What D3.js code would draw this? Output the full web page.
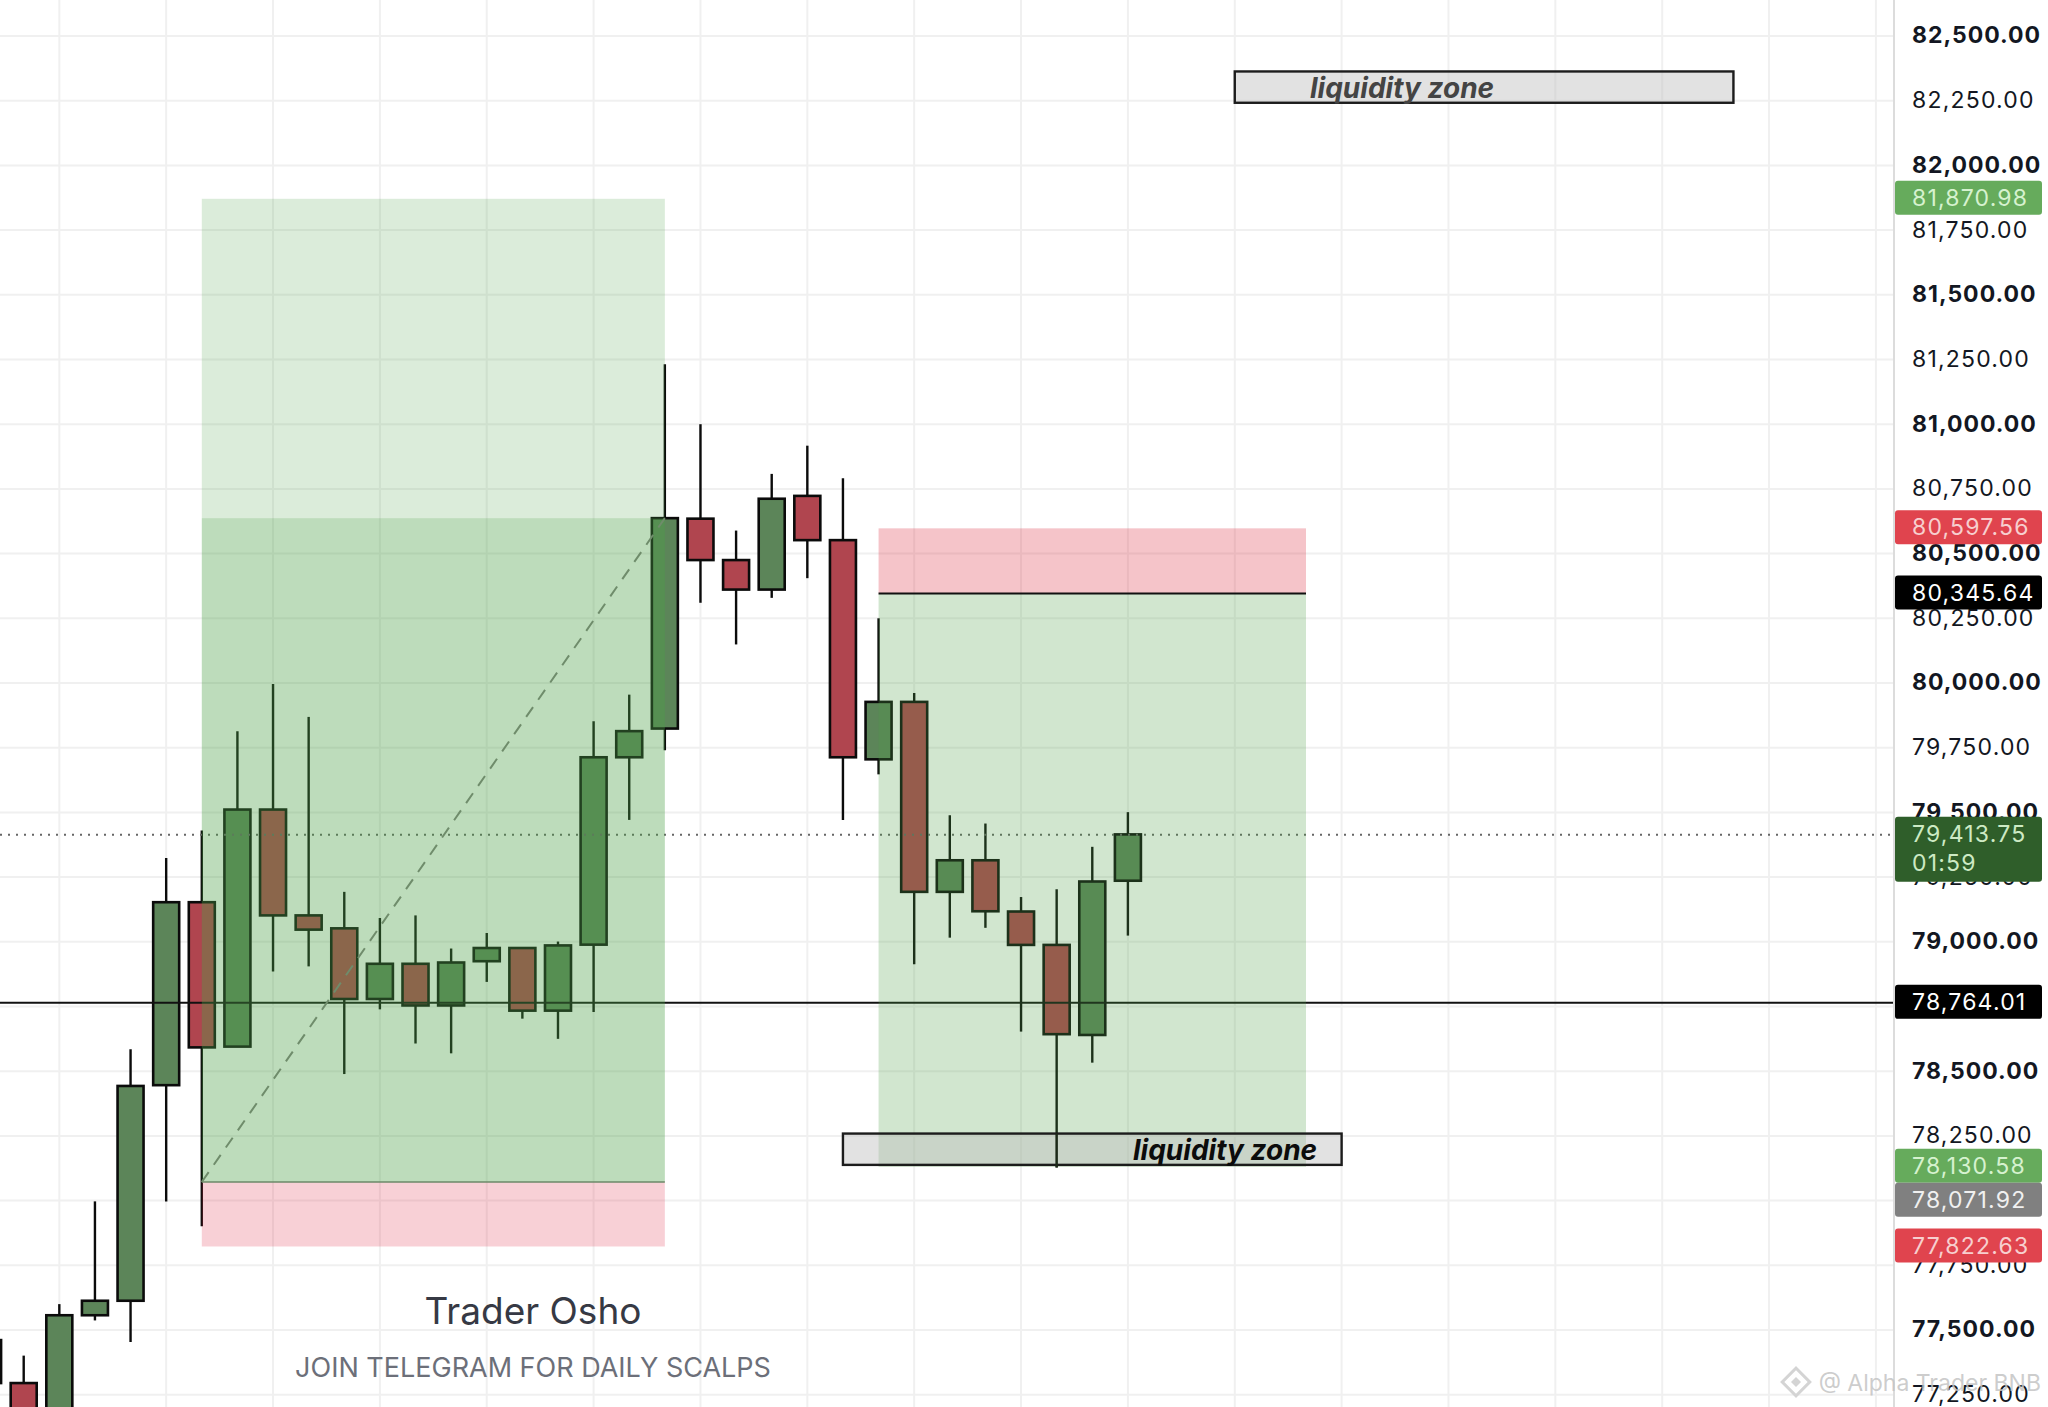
<!DOCTYPE html>
<html>
<head>
<meta charset="utf-8">
<script src="https://cdnjs.cloudflare.com/ajax/libs/d3/7.8.5/d3.min.js"></script>
<style>
  html, body { margin: 0; padding: 0; background: #fff; }
  svg { display: block; font-family: Inter, "Noto Sans", sans-serif; }
</style>
</head>
<body>
<div id="chart"></div>
<script>
// candles, index -1 is the one cut off by the left edge
const candleIdx = d3.range(-1, 32)
const opens  = [77461,77295,77088,77557,77613,78446,79153,78595,79511,79102,79052,78779,78915,78754,78925,78976,78734,78989,79713,79824,80635,80475,80361,80723,80552,79705,79927,79193,79315,79117,78988,78640,79236]
const highs  = [77461,77401,77600,77997,78585,79324,79430,79814,79996,79869,79193,79092,79102,78974,79034,78976,79001,79852,79955,81232,81000,80589,80808,80917,80791,80250,79961,79489,79457,79173,79203,79367,79501]
const lows   = [77295,77000,76980,77537,77454,77997,77901,78595,78885,78905,78489,78739,78607,78569,78845,78703,78625,78729,79471,79740,80310,80149,80329,80405,79471,79647,78913,79016,79054,78653,78128,78533,79024]
const closes = [77295,77088,77557,77613,78443,79153,78592,79511,79102,79047,78779,78915,78754,78920,78976,78734,78986,79713,79814,80637,80475,80361,80712,80552,79713,79927,79193,79315,79118,78988,78643,79233,79415]

// price axis
const priceTicks = d3.range(77250, 82501, 250)
const timeGrid = d3.range(1, 53, 3)

// price tags on the axis
const tagValues = [81870.98, 80597.56, 80345.64, 79413.75, 78764.01, 78130.58, 78071.92, 77822.63]
const tagLabels = ["81,870.98", "80,597.56", "80,345.64", "79,413.75", "78,764.01", "78,130.58", "78,071.92", "77,822.63"]
const tagFills  = ["#66ab5c", "#e0444e", "#000000", "#2f5e2a", "#000000", "#66ab5c", "#808080", "#e0444e"]
const tagTexts  = ["#d6f2cf", "#f7cfcf", "#ffffff", "#cdeac4", "#ffffff", "#d6f2cf", "#f0f0f0", "#f7cfcf"]
const countdown = "01:59"

// long position tool
const longStart = 5, longEnd = 18
const longStop = 77822.63, longEntry = 78071.92, longTarget = 81870.98, longReached = 80637
// short position tool
const shortStart = 24, shortEnd = 36
const shortStop = 80597.56, shortEntry = 80345.64, shortTarget = 78130.58
// liquidity boxes
const liqTop = {start: 34, end: 48, hi: 82363, lo: 82242}
const liqBottom = {start: 23, end: 37, hi: 78259, lo: 78138}

const lastPrice = 79413.75
const hLine = 78764.01

const W = 2048, H = 1407, paneRight = 1894

const svg = d3.select("#chart").append("svg")
    .attr("width", W)
    .attr("height", H)
    .attr("viewBox", `0 0 ${W} ${H}`)

svg.append("rect").attr("width", W).attr("height", H).attr("fill", "#fff")

const x = d3.scaleLinear().domain([0, 31]).range([23.7, 1127.9])
const y = d3.scaleLinear().domain([82500, 77250]).range([36, 1394.7])
const bodyW = 26

// grid
svg.append("g").selectAll("line")
    .data(timeGrid)
    .join("line")
    .attr("x1", d => x(d)).attr("x2", d => x(d))
    .attr("y1", 0).attr("y2", H)
    .attr("stroke", "#f0f0f0").attr("stroke-width", 2)

svg.append("g").selectAll("line")
    .data(priceTicks)
    .join("line")
    .attr("x1", 0).attr("x2", paneRight)
    .attr("y1", d => y(d)).attr("y2", d => y(d))
    .attr("stroke", "#f0f0f0").attr("stroke-width", 2)

// candles go under the position tools, the tint is what makes the red ones brown
const candles = svg.append("g").selectAll("g")
    .data(candleIdx)
    .join("g")
candles.append("line")
    .attr("x1", d => x(d)).attr("x2", d => x(d))
    .attr("y1", (d, i) => y(highs[i]))
    .attr("y2", (d, i) => y(lows[i]))
    .attr("stroke", "#0b0b0b").attr("stroke-width", 2.4)
candles.append("rect")
    .attr("x", d => x(d) - bodyW / 2)
    .attr("width", bodyW)
    .attr("y", (d, i) => y(Math.max(opens[i], closes[i])))
    .attr("height", (d, i) => Math.abs(y(opens[i]) - y(closes[i])))
    .attr("fill", (d, i) => closes[i] >= opens[i] ? "#5c8559" : "#b0454f")
    .attr("stroke", "#0b0b0b").attr("stroke-width", 2.6)

// last price and horizontal line run over the candles
svg.append("line")
    .attr("x1", 0).attr("x2", paneRight)
    .attr("y1", y(lastPrice)).attr("y2", y(lastPrice))
    .attr("stroke", "#666").attr("stroke-width", 2)
    .attr("stroke-dasharray", "2 6")
svg.append("line")
    .attr("x1", 0).attr("x2", paneRight)
    .attr("y1", y(hLine)).attr("y2", y(hLine))
    .attr("stroke", "#111").attr("stroke-width", 2)

// long position
const zones = svg.append("g")
function zone(x0, x1, p0, p1, fill) {
    zones.append("rect")
        .attr("x", x(x0)).attr("width", x(x1) - x(x0))
        .attr("y", y(p0)).attr("height", y(p1) - y(p0))
        .attr("fill", fill)
}
zone(longStart, longEnd, longTarget, longReached, "rgba(76,160,70,0.2)")
zone(longStart, longEnd, longReached, longEntry, "rgba(76,160,70,0.37)")
zone(longStart, longEnd, longEntry, longStop, "rgba(226,60,85,0.24)")
zones.append("line")
    .attr("x1", x(longStart)).attr("x2", x(longEnd))
    .attr("y1", y(longEntry)).attr("y2", y(longEntry))
    .attr("stroke", "#6d8a68").attr("stroke-width", 1.5)
zones.append("line")
    .attr("x1", x(longStart)).attr("x2", x(longEnd))
    .attr("y1", y(longEntry)).attr("y2", y(longReached))
    .attr("stroke", "#6f8c6b").attr("stroke-width", 2)
    .attr("stroke-dasharray", "12 9")

// short position
zone(shortStart, shortEnd, shortStop, shortEntry, "rgba(222,60,75,0.3)")
zone(shortStart, shortEnd, shortEntry, shortTarget, "rgba(76,160,70,0.26)")
zones.append("line")
    .attr("x1", x(shortStart)).attr("x2", x(shortEnd))
    .attr("y1", y(shortEntry)).attr("y2", y(shortEntry))
    .attr("stroke", "#111").attr("stroke-width", 2)

// liquidity boxes
function liquidity(b, textX, color) {
    svg.append("rect")
        .attr("x", x(b.start)).attr("width", x(b.end) - x(b.start))
        .attr("y", y(b.hi)).attr("height", y(b.lo) - y(b.hi))
        .attr("fill", "rgba(190,190,190,0.45)")
        .attr("stroke", "#1c1c1c").attr("stroke-width", 2.4)
    svg.append("text")
        .attr("x", textX)
        .attr("y", (y(b.hi) + y(b.lo)) / 2 + 11)
        .attr("font-size", 28)
        .attr("font-weight", 700)
        .attr("font-style", "italic")
        .attr("fill", color)
        .text("liquidity zone")
}
liquidity(liqTop, 1310, "#444")
liquidity(liqBottom, 1133, "#0c0c0c")

// wick that runs through the bottom box
const deepest = candleIdx.indexOf(29)
svg.append("line")
    .attr("x1", x(29)).attr("x2", x(29))
    .attr("y1", y(liqBottom.hi)).attr("y2", y(lows[deepest]))
    .attr("stroke", "#1c2a18").attr("stroke-width", 2.2)

// watermark text
svg.append("text")
    .attr("x", 533).attr("y", 1324)
    .attr("text-anchor", "middle")
    .attr("font-size", 37)
    .attr("fill", "#363944")
    .text("Trader Osho")
svg.append("text")
    .attr("x", 533).attr("y", 1377)
    .attr("text-anchor", "middle")
    .attr("font-size", 27)
    .attr("fill", "#6c6f79")
    .text("JOIN TELEGRAM FOR DAILY SCALPS")

// price axis
const axisG = svg.append("g")
    .attr("transform", `translate(${paneRight},0)`)
    .call(d3.axisRight(y)
        .tickValues(priceTicks)
        .tickFormat(d3.format(",.2f"))
        .tickSize(0)
        .tickPadding(18))
axisG.select(".domain").remove()
axisG.selectAll("text")
    .attr("font-family", "Inter, sans-serif")
    .attr("font-size", 23)
    .attr("dy", "0.3em")
    .attr("fill", "#131722")
    .attr("font-weight", d => d % 500 === 0 ? 700 : 400)
    .attr("letter-spacing", d => d % 500 === 0 ? 1 : 1.2)

svg.append("line")
    .attr("x1", paneRight).attr("x2", paneRight)
    .attr("y1", 0).attr("y2", H)
    .attr("stroke", "#dcdcdc").attr("stroke-width", 2)

// tags, pushed down when they would overlap like on the real chart
const tagH = 34
let prevBottom = -Infinity
tagValues.forEach((v, i) => {
    const big = v === lastPrice
    let top = y(v) - 1 - tagH / 2
    if (top < prevBottom) top = prevBottom
    const h = big ? 65 : tagH
    prevBottom = top + h
    svg.append("rect")
        .attr("x", paneRight + 1).attr("y", top)
        .attr("width", 147).attr("height", h)
        .attr("rx", 3)
        .attr("fill", tagFills[i])
    svg.append("text")
        .attr("x", paneRight + 18).attr("y", top + 25)
        .attr("font-size", 23)
        .attr("letter-spacing", 1.2)
        .attr("fill", tagTexts[i])
        .text(tagLabels[i])
    if (big) {
        svg.append("text")
            .attr("x", paneRight + 18).attr("y", top + 54)
            .attr("font-size", 23)
            .attr("letter-spacing", 1.2)
            .attr("fill", tagTexts[i])
            .text(countdown)
    }
})

// exchange watermark
svg.append("text")
    .attr("x", 2041).attr("y", 1391)
    .attr("text-anchor", "end")
    .attr("font-size", 23)
    .attr("fill", "#c4c4c4")
    .attr("fill-opacity", 0.85)
    .text("@ Alpha Trader BNB")
const logo = svg.append("g").attr("transform", "translate(1796,1382) rotate(45)")
logo.append("path")
    .attr("d", d3.symbol(d3.symbolSquare, 380)())
    .attr("fill", "none")
    .attr("stroke", "#d4d4d4")
    .attr("stroke-width", 3)
logo.append("path")
    .attr("d", d3.symbol(d3.symbolSquare, 50)())
    .attr("fill", "#d4d4d4")
</script>
</body>
</html>
